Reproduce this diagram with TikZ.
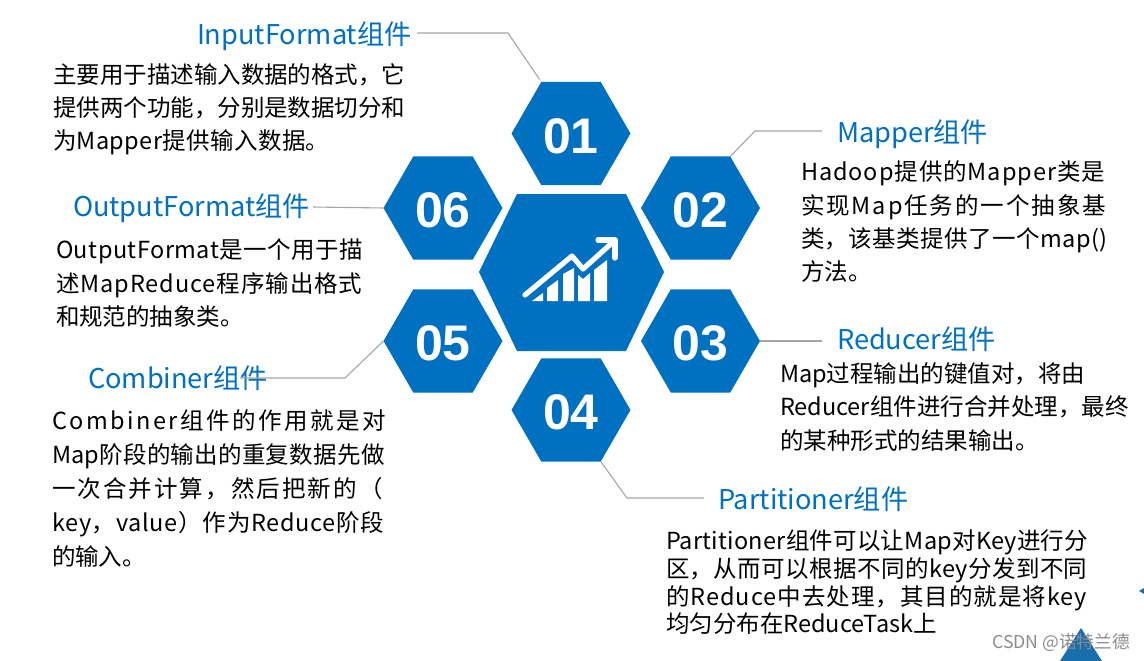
\documentclass[tikz,border=0pt]{standalone}
\usepackage{fontspec}
\setmainfont{Noto Sans CJK SC}
\setsansfont{Liberation Sans}
\usetikzlibrary{shapes.geometric}
\definecolor{hexblue}{HTML}{0070C0}
\definecolor{connline}{HTML}{A6A6A6}
\newcommand{\ls}[2]{{\addfontfeature{LetterSpace=#1}#2}}
\newcommand{\hexnum}[1]{\raisebox{-2pt}[35.8pt][0pt]{#1}}
\tikzset{
  x=1pt,y=-1pt,
  smallhex/.style={regular polygon,regular polygon sides=6,minimum size=119pt,inner sep=0pt,outer sep=0pt,fill=hexblue,text=white,font=\fontsize{50}{50}\selectfont\bfseries\sffamily},
  title/.style={anchor=west,inner sep=0pt,outer sep=0pt,text=hexblue,font=\fontsize{27.2}{30}\selectfont},
  bodytext/.style={anchor=north west,inner sep=0pt,outer sep=0pt,align=left,text=black,font=\fontsize{23.5}{#1}\selectfont},
  conn/.style={draw=connline,line width=1.1pt},
  iconw/.style={draw=white,line width=5.2pt,line cap=round,line join=round},
}
\begin{document}
\begin{tikzpicture}
\useasboundingbox (0,0) rectangle (1144,661);
\fill[white] (0,0) rectangle (1144,661);
% centre hexagon
\fill[hexblue] (479,272) -- (517,194) -- (626,194) -- (664,272) -- (626,351) -- (517,351) -- cycle;
% icon
\fill[white] (532,301) -- (543,293) -- (543,301) -- cycle;
\fill[white] (547,301) -- (547,288) -- (558,280) -- (558,301) -- cycle;
\fill[white] (563,301) -- (563,274) -- (574,268) -- (574,301) -- cycle;
\fill[white] (578,301) -- (578,275) -- (583,279) -- (590,273) -- (590,301) -- cycle;
\fill[white] (594,301) -- (594,270) -- (607,260) -- (607,301) -- cycle;
\draw[iconw] (525,295) -- (572,256) -- (583,269) -- (613,242);
\draw[iconw] (598,240) -- (615,240) -- (615,258);
% hexagons
\node[smallhex] (h1) at (571,133.5) {\hexnum{01}};
\node[smallhex] (h2) at (700.5,208) {\hexnum{02}};
\node[smallhex] (h3) at (700.5,341) {\hexnum{03}};
\node[smallhex] (h4) at (571,410) {\hexnum{04}};
\node[smallhex] (h5) at (443,341) {\hexnum{05}};
\node[smallhex] (h6) at (443,208) {\hexnum{06}};
% titles
\node[title] (t1) at (197,36.5) {InputFormat组件};
\node[title] (t2) at (837,134.5) {Mapper组件};
\node[title] (t3) at (837,339) {Reducer组件};
\node[title] (t4) at (718,499.5) {Partitioner组件};
\node[title] (t5) at (88,378.5) {Combiner组件};
\node[title] (t6) at (73,208.5) {OutputFormat组件};
% connectors
\coordinate (c1) at (508,33);
\coordinate (c2) at (755,131);
\coordinate (c4) at (627,498);
\coordinate (c5) at (345,378);
\draw[conn,shorten >=3pt] (417,33) -- (c1) -- (h1.corner 2);
\draw[conn] (822,131) -- (c2) -- (h2.corner 1);
\draw[conn] (h3.corner 6) -- (822,341);
\draw[conn] (704,498) -- (c4) -- (h4.corner 5);
\draw[conn] (240,378) -- (c5) -- (h5.corner 3);
\draw[conn] (313,207) -- (h6.corner 3);
% body
\node[bodytext=32.7] (b1) at (53,64) {主要用于描述输入数据的格式，它\\提供两个功能，分别是数据切分和\\\ls{1.6}{为Mapper提供输入数据。}};
\node[bodytext=33.3] (b2) at (801,161) {\ls{4}{Hadoop提供的Mapper类是}\\\ls{8.2}{实现Map任务的一个抽象基}\\\ls{1.9}{类，该基类提供了一个map()}\\方法。};
\node[bodytext=33.5] (b3) at (780,362.5) {Map过程输出的键值对，将由\\Reducer组件进行合并处理，最终\\的某种形式的结果输出。};
\node[bodytext=27.7] (b4) at (666,530) {\ls{1}{Partitioner组件可以让Map对Key进行分}\\\ls{1.8}{区，从而可以根据不同的key分发到不同}\\\ls{4.3}{的Reduce中去处理，其目的就是将key}\\均匀分布在ReduceTask上};
\node[bodytext=33.8] (b5) at (52,410) {\ls{10.6}{Combiner组件的作用就是对}\\\ls{1.1}{Map阶段的输出的重复数据先做}\\\ls{8.9}{一次合并计算，然后把新的（}\\\ls{3}{key，value）作为Reduce阶段}\\的输入。};
\node[bodytext=33.5] (b6) at (56,239) {\ls{2.1}{OutputFormat是一个用于描}\\\ls{4}{述MapReduce程序输出格式}\\和规范的抽象类。};
% decoration
\fill[hexblue!85!black!90] (1081,628) -- (1102,661) -- (1060,661) -- cycle;
\fill[hexblue!85!black!90] (1139,591) -- (1144,588) -- (1144,594) -- cycle;
\node[anchor=west,inner sep=0pt,text=black!45,font=\fontsize{17.7}{18}\selectfont] (wm) at (992,643) {CSDN @诺特兰德};
\end{tikzpicture}
\end{document}
